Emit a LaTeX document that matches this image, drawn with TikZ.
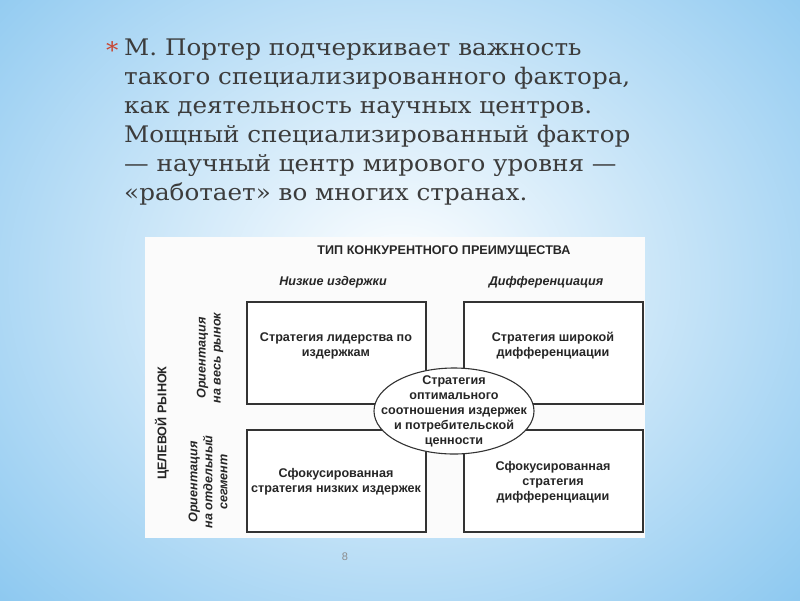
\documentclass[tikz,border=0pt]{standalone}
\usepackage{fontspec}
\setmainfont[FakeStretch=1.08]{DejaVu Serif}
\newfontfamily\arial{Liberation Sans}
\usetikzlibrary{shapes.geometric}
\definecolor{bgblue}{RGB}{140,200,240}
\definecolor{txt}{RGB}{60,60,60}
\definecolor{star}{RGB}{200,70,50}
\tikzset{x=1pt,y=-1pt,
  box/.style={draw=black!80,line width=1.1pt,fill=white},
  lab/.style={font=\arial\bfseries\fontsize{12.6}{15}\selectfont,align=center,text=black!85},
  it/.style={font=\arial\bfseries\itshape\fontsize{12.6}{15}\selectfont},
  body/.style={font=\fontsize{22.8}{29}\selectfont,text=txt,anchor=base west,inner sep=0}}
\begin{document}
\begin{tikzpicture}
\useasboundingbox (0,0) rectangle (800,600);
\begin{scope}
\clip (0,0) rectangle (800,600);
\fill[bgblue] (0,0) rectangle (800,600);
\shade[inner color=white,outer color=bgblue] (400,280) ellipse (560 and 470);
\end{scope}
\node[body,text=star] (st) at (106,58) {*};
\node[body] (l1) at (124,55) {М. Портер подчеркивает важность};
\node[body] (l2) at (124,84) {такого специализированного фактора,};
\node[body] (l3) at (124,113) {как деятельность научных центров.};
\node[body] (l4) at (124,142) {Мощный специализированный фактор};
\node[body] (l5) at (124,171) {— научный центр мирового уровня —};
\node[body] (l6) at (124,200) {«работает» во многих странах.};
\fill[white!97!gray] (145,237) rectangle (645,538);
\node[box,minimum width=179pt,minimum height=102pt] (tl) at (336.5,353) {};
\node[box,minimum width=179pt,minimum height=102pt] (tr) at (553.5,353) {};
\node[box,minimum width=179pt,minimum height=102pt] (bl) at (336.5,481) {};
\node[box,minimum width=179pt,minimum height=102pt] (br) at (553.5,481) {};
\node[lab] at (336,346) {Стратегия лидерства по\\издержкам};
\node[lab] at (553,346) {Стратегия широкой\\дифференциации};
\node[lab] at (336,482) {Сфокусированная\\стратегия низких издержек};
\node[lab] at (553,482) {Сфокусированная\\стратегия\\дифференциации};
\node[ellipse,draw=black!80,line width=1.1pt,fill=white,minimum width=160pt,minimum height=86pt,inner sep=0] (el) at (454,411) {};
\node[lab] at (454,411) {Стратегия\\оптимального\\соотношения издержек\\и потребительской\\ценности};
\node[lab] (title) at (444,251) {ТИП КОНКУРЕНТНОГО ПРЕИМУЩЕСТВА};
\node[lab,it] (h1) at (333,282) {Низкие издержки};
\node[lab,it] (h2) at (546,282) {Дифференциация};
\node[lab,rotate=90] (tm) at (162,423) {ЦЕЛЕВОЙ РЫНОК};
\node[lab,it,rotate=90] (o1) at (210,358) {Ориентация\\на весь рынок};
\node[lab,it,rotate=90] (o2) at (208,482) {Ориентация\\на отдельный\\сегмент};
\node[font=\arial\fontsize{11}{13}\selectfont,text=black!45] (pg) at (345,557) {8};
\end{tikzpicture}
\end{document}
